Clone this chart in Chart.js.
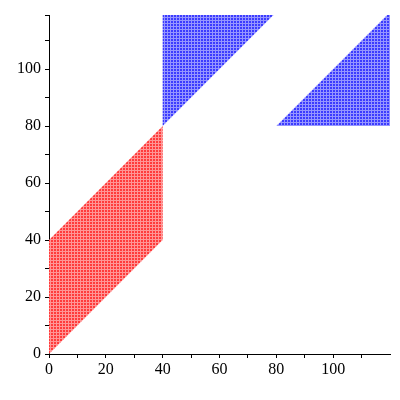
<!DOCTYPE html>
<html>
<head>
<meta charset="utf-8">
<script src="https://cdn.jsdelivr.net/npm/chart.js@4"></script>
<style>
html,body{margin:0;padding:0;background:#fff;}
#wrap{width:400px;height:400px;}
</style>
</head>
<body>
<div id="wrap"><canvas id="c" width="400" height="400"></canvas></div>
<script>
// Region vertices (closed polygons)
const redX = [0, 40, 40, 0, 0];
const redY = [0, 40, 80, 40, 0];
const blueAX = [40, 80, 40, 40];
const blueAY = [80, 120, 120, 80];
const blueBX = [80, 120, 120, 80];
const blueBY = [80, 80, 120, 80];
const tickValues = [0, 20, 40, 60, 80, 100];

function pts(xs, ys) { return xs.map((x, i) => ({x: x, y: ys[i]})); }

function makePattern(base, gap) {
  const p = document.createElement('canvas');
  p.width = 3; p.height = 3;
  const g = p.getContext('2d');
  g.fillStyle = gap; g.fillRect(0, 0, 3, 3);
  g.fillStyle = base; g.fillRect(0, 0, 2, 2);
  return document.getElementById('c').getContext('2d').createPattern(p, 'repeat');
}
const redPat = makePattern('rgb(255,60,60)', 'rgb(255,150,150)');
const bluePat = makePattern('rgb(60,60,255)', 'rgb(150,150,255)');

const font = {family: '"Liberation Serif", "Times New Roman", serif', size: 16};
const tickColor = ctx => (ctx.tick && ctx.tick.value >= 120) ? 'rgba(0,0,0,0)' : '#000';

new Chart(document.getElementById('c'), {
  type: 'line',
  data: {
    datasets: [
      {data: pts(redX, redY), fill: 'shape', backgroundColor: redPat, borderWidth: 0, pointRadius: 0, tension: 0, clip: false},
      {data: pts(blueAX, blueAY), fill: 'shape', backgroundColor: bluePat, borderWidth: 0, pointRadius: 0, tension: 0, clip: false},
      {data: pts(blueBX, blueBY), fill: 'shape', backgroundColor: bluePat, borderWidth: 0, pointRadius: 0, tension: 0, clip: false}
    ]
  },
  options: {
    responsive: false,
    animation: false,
    events: [],
    layout: {padding: {top: 15, right: 10, left: 0, bottom: 0}},
    plugins: {legend: {display: false}, tooltip: {enabled: false}},
    scales: {
      x: {
        type: 'linear', min: 0, max: 120,
        border: {color: '#000', width: 1},
        grid: {display: true, drawOnChartArea: false, drawTicks: true, tickLength: 4, color: tickColor},
        ticks: {stepSize: 10, color: '#000', font: font, padding: 2, maxRotation: 0,
          callback: v => tickValues.includes(v) ? String(v) : ''},
        afterFit: s => { s.height = 46; }
      },
      y: {
        type: 'linear', min: 0, max: 119,
        border: {color: '#000', width: 1},
        grid: {display: true, drawOnChartArea: false, drawTicks: true, tickLength: 4, color: tickColor},
        ticks: {stepSize: 10, color: '#000', font: font, padding: 4,
          callback: v => tickValues.includes(v) ? String(v) : ''},
        afterFit: s => { s.width = 49; }
      }
    }
  }
});
</script>
</body>
</html>
